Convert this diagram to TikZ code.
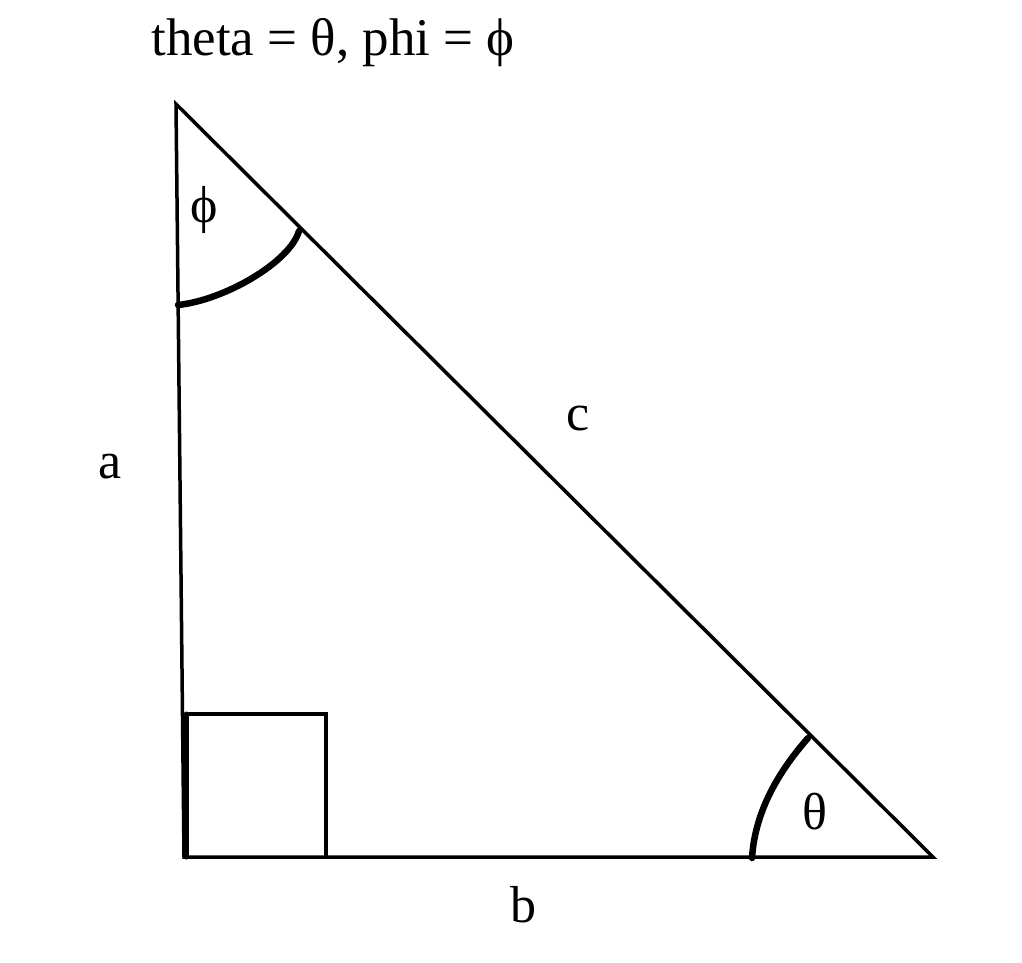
\documentclass[tikz,border=0pt]{standalone}
\usepackage{fontspec}
\setmainfont{Liberation Serif}
\begin{document}
\begin{tikzpicture}[x=1pt,y=-1pt,
  edge/.style={line width=3.5pt,line cap=round,line join=miter},
  arcmark/.style={line width=6.5pt,line cap=round},
  lbl/.style={font=\fontsize{52}{62}\selectfont,inner sep=0pt}]
\useasboundingbox (0,0) rectangle (1022,962);
\coordinate (A) at (176,104);
\coordinate (B) at (184,857);
\coordinate (C) at (933,857);
\coordinate (S1) at (186,714);
\coordinate (S2) at (326,714);
\coordinate (S3) at (326,856);
\draw[edge] (A) -- (B) -- (C) -- cycle;
\draw[edge] (S1) -- (S2) -- (S3);
\draw[edge,line width=5pt] (186,714) -- (186,857);
\coordinate (P1) at (178,305);
\coordinate (P2) at (299,231);
\draw[arcmark] (P1) .. controls (225,300) and (290,262) .. (P2);
\coordinate (T1) at (752,858);
\coordinate (T2) at (808,738);
\draw[arcmark] (T1) .. controls (755,810) and (780,770) .. (T2);
\node[lbl,anchor=base,font=\fontsize{53}{63}\selectfont] (title) at (333,55) {theta = θ, phi = ϕ};
\node[lbl] (la) at (110,467) {a};
\node[lbl] (lc) at (578,418) {c};
\node[lbl] (lb) at (523,905) {b};
\node[lbl] (lphi) at (204,210) {ϕ};
\node[lbl] (ltheta) at (815,812) {θ};
\end{tikzpicture}
\end{document}
